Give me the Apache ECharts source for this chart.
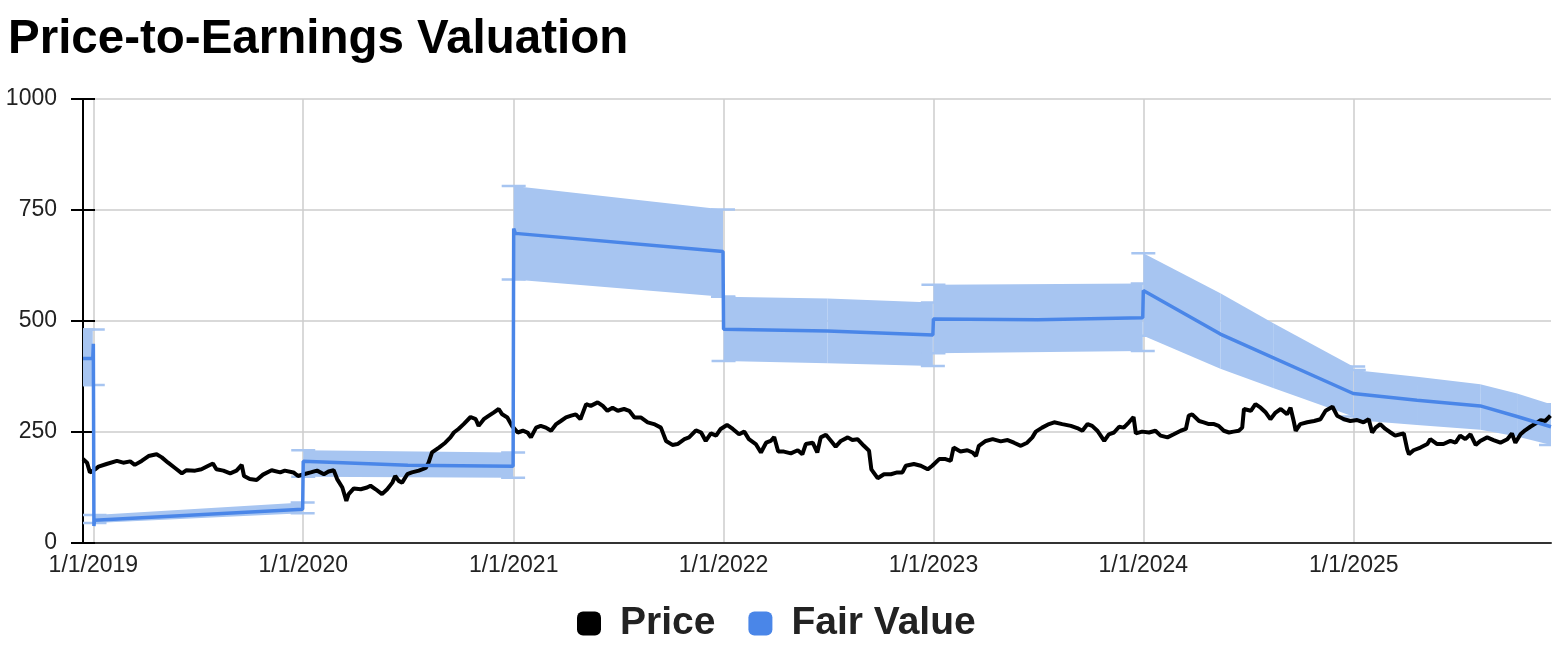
<!DOCTYPE html>
<html>
<head>
<meta charset="utf-8">
<title>Price-to-Earnings Valuation</title>
<script src="https://cdn.jsdelivr.net/npm/echarts@6.0.0/dist/echarts.min.js"></script>
<style>
html, body { margin: 0; padding: 0; background: #fff; }
#chart { width: 1564px; height: 654px; }
</style>
</head>
<body>
<div id="chart"></div>
<script>
// axis ticks
var yTicks = [0, 250, 500, 750, 1000];
var xTickDates = ['2019-01-01', '2020-01-01', '2021-01-01', '2022-01-01', '2023-01-01', '2024-01-01', '2025-01-01'];
var xStart = '2018-12-14', xEnd = '2025-12-10';

// price
var priceDates = [
	'2018-12-14','2018-12-21','2018-12-26','2019-01-04','2019-01-10','2019-01-24','2019-02-11','2019-02-22','2019-03-06','2019-03-14',
	'2019-03-26','2019-04-07','2019-04-21','2019-04-30','2019-05-11','2019-05-23','2019-06-04','2019-06-12','2019-06-27','2019-07-08',
	'2019-07-20','2019-07-28','2019-08-03','2019-08-15','2019-08-27','2019-09-07','2019-09-16','2019-09-20','2019-09-30','2019-10-12',
	'2019-10-23','2019-11-07','2019-11-22','2019-11-30','2019-12-15','2019-12-23','2020-01-02','2020-01-14','2020-01-25','2020-02-06',
	'2020-02-14','2020-02-23','2020-02-29','2020-03-09','2020-03-16','2020-03-20','2020-03-29','2020-04-10','2020-04-21','2020-04-27',
	'2020-05-06','2020-05-17','2020-05-26','2020-06-04','2020-06-09','2020-06-15','2020-06-21','2020-06-30','2020-07-08','2020-07-20',
	'2020-08-01','2020-08-06','2020-08-12','2020-08-24','2020-09-04','2020-09-13','2020-09-19','2020-09-27','2020-10-06','2020-10-18',
	'2020-10-27','2020-11-01','2020-11-10','2020-11-19','2020-11-27','2020-12-06','2020-12-12','2020-12-21','2020-12-29','2021-01-08',
	'2021-01-17','2021-01-25','2021-01-31','2021-02-09','2021-02-17','2021-02-26','2021-03-07','2021-03-16','2021-03-24','2021-04-02',
	'2021-04-11','2021-04-19','2021-04-27','2021-05-07','2021-05-15','2021-05-27','2021-06-05','2021-06-13','2021-06-22','2021-07-01',
	'2021-07-12','2021-07-21','2021-07-30','2021-08-10','2021-08-22','2021-09-02','2021-09-14','2021-09-23','2021-10-04','2021-10-13',
	'2021-10-25','2021-11-02','2021-11-14','2021-11-23','2021-12-01','2021-12-10','2021-12-19','2021-12-27','2022-01-07','2022-01-17',
	'2022-01-28','2022-02-06','2022-02-14','2022-02-26','2022-03-07','2022-03-16','2022-03-24','2022-03-30','2022-04-06','2022-04-16',
	'2022-04-28','2022-05-10','2022-05-18','2022-05-24','2022-06-05','2022-06-13','2022-06-19','2022-06-28','2022-07-07','2022-07-15',
	'2022-07-24','2022-08-05','2022-08-13','2022-08-22','2022-09-02','2022-09-11','2022-09-15','2022-09-26','2022-10-07','2022-10-19',
	'2022-10-30','2022-11-08','2022-11-14','2022-11-28','2022-12-10','2022-12-22','2022-12-30','2023-01-11','2023-01-22','2023-01-31',
	'2023-02-05','2023-02-17','2023-03-01','2023-03-10','2023-03-16','2023-03-21','2023-04-02','2023-04-14','2023-04-28','2023-05-10',
	'2023-05-21','2023-06-02','2023-06-13','2023-06-22','2023-06-28','2023-07-09','2023-07-21','2023-07-30','2023-08-13','2023-08-28',
	'2023-09-08','2023-09-17','2023-09-26','2023-10-04','2023-10-13','2023-10-25','2023-11-02','2023-11-11','2023-11-20','2023-11-28',
	'2023-12-07','2023-12-15','2023-12-19','2023-12-30','2024-01-11','2024-01-22','2024-01-31','2024-02-12','2024-02-23','2024-03-06',
	'2024-03-15','2024-03-20','2024-03-26','2024-04-07','2024-04-15','2024-04-24','2024-05-03','2024-05-11','2024-05-20','2024-05-29',
	'2024-06-06','2024-06-15','2024-06-21','2024-06-24','2024-06-27','2024-07-06','2024-07-14','2024-07-23','2024-08-01','2024-08-09',
	'2024-08-18','2024-08-27','2024-09-07','2024-09-13','2024-09-19','2024-09-22','2024-09-30','2024-10-12','2024-10-24','2024-11-04',
	'2024-11-13','2024-11-25','2024-12-03','2024-12-15','2024-12-26','2025-01-07','2025-01-18','2025-01-27','2025-02-02','2025-02-08',
	'2025-02-16','2025-02-25','2025-03-06','2025-03-14','2025-03-23','2025-03-29','2025-04-04','2025-04-07','2025-04-15','2025-04-27',
	'2025-05-09','2025-05-14','2025-05-26','2025-06-06','2025-06-18','2025-06-27','2025-07-05','2025-07-14','2025-07-23','2025-08-01',
	'2025-08-09','2025-08-21','2025-09-01','2025-09-13','2025-09-25','2025-10-03','2025-10-09','2025-10-18','2025-10-26','2025-11-04',
	'2025-11-13','2025-11-22','2025-11-30','2025-12-09'
];
var priceValues = [
	188,180,158,165,171,177,184,180,183,175,
	184,195,199,192,180,168,156,163,162,165,
	173,178,165,162,156,162,175,150,143,141,
	153,163,158,162,158,150,154,158,162,154,
	160,163,143,124,94,109,122,120,124,128,
	120,109,120,135,150,139,135,154,158,162,
	168,180,203,214,225,237,248,256,267,283,
	278,263,278,286,293,301,289,282,263,248,
	252,248,237,259,263,259,252,267,274,282,
	286,289,278,312,308,316,308,297,304,297,
	301,297,282,282,271,267,259,229,220,222,
	233,237,253,248,229,246,241,256,265,256,
	244,250,233,222,203,225,229,238,205,205,
	201,208,199,222,225,203,237,243,229,216,
	229,237,231,233,218,207,165,145,154,154,
	158,158,173,177,173,165,173,188,188,184,
	214,205,208,203,195,218,229,233,228,231,
	225,218,225,237,250,259,267,271,267,263,
	258,252,267,263,252,229,244,248,261,259,
	271,283,246,250,248,252,241,237,244,252,
	256,286,289,274,271,267,267,263,252,248,
	250,252,259,301,301,297,312,304,293,278,
	293,301,289,304,271,252,267,271,274,278,
	297,306,286,278,274,276,271,278,248,259,
	267,256,248,241,244,246,210,199,208,214,
	222,233,222,222,229,225,241,233,244,220,
	229,237,231,225,233,246,225,244,253,261,
	268,276,274,286
];

// fair value line
var fairDates = [
	'2018-12-14','2018-12-31','2019-01-01','2019-01-02','2019-01-03','2019-12-31',
	'2020-01-01','2020-07-01','2020-12-31','2021-01-01','2021-01-04','2021-12-31',
	'2022-01-01','2022-07-01','2022-12-31','2023-01-01','2023-07-01','2023-12-31',
	'2024-01-01','2024-05-14','2024-12-31','2025-04-21','2025-08-09','2025-10-12','2025-12-10'
];
var fairValues = [
	415,415,448,37,50,75,
	183,174,172,708,697,656,
	481,477,468,504,502,507,
	568,470,336,321,308,284,261
];

// fair value range (error band)
var bandDates = [
	'2018-12-14','2018-12-31','2019-01-03','2019-12-31','2020-01-01','2020-12-31',
	'2021-01-01','2021-12-31','2022-01-01','2022-07-01','2022-12-31','2023-01-01',
	'2023-12-31','2024-01-01','2024-05-14','2024-08-15','2024-12-31','2025-01-01',
	'2025-04-21','2025-08-09','2025-10-12','2025-12-10'
];
var bandLow = [
	355,355,44,66,148,146,
	593,554,409,404,398,427,
	432,466,392,348,284,276,
	265,254,239,220
];
var bandHigh = [
	480,480,62,90,208,203,
	804,751,554,550,541,581,
	584,652,562,494,397,389,
	374,357,336,312
];

var bandColor = '#a7c5f1';
var DAY = 24 * 3600 * 1000;

function toTime(s) {
	var p = s.split('-');
	return new Date(+p[0], +p[1] - 1, +p[2]).getTime();
}

function pairs(dates, values) {
	var out = [];
	for (var i = 0; i < dates.length; i++) {
		out.push([toTime(dates[i]), values[i]]);
	}
	return out;
}

// 区间数据：每一段 [t0, lo0, hi0, t1, lo1, hi1, 跳变, 首端, 末端]
var bandTimes = bandDates.map(toTime);
var bandData = [];
for (var i = 0; i < bandTimes.length - 1; i++) {
	var jump = bandTimes[i + 1] - bandTimes[i] < 3.5 * DAY ? 1 : 0;
	bandData.push([bandTimes[i], bandLow[i], bandHigh[i],
		bandTimes[i + 1], bandLow[i + 1], bandHigh[i + 1],
		jump, i == 0 ? 1 : 0, i == bandTimes.length - 2 ? 1 : 0]);
}

function cap(pt) {
	return {
		type: 'line',
		shape: { x1: pt[0] - 12, y1: pt[1], x2: pt[0] + 12, y2: pt[1] },
		style: { stroke: bandColor, lineWidth: 2.5 }
	};
}

function renderBand(params, api) {
	var lo0 = api.coord([api.value(0), api.value(1)]);
	var hi0 = api.coord([api.value(0), api.value(2)]);
	var lo1 = api.coord([api.value(3), api.value(4)]);
	var hi1 = api.coord([api.value(3), api.value(5)]);
	var children = [];
	if (api.value(6)) {
		// 跳变处只画误差线端帽
		children.push(cap(lo0), cap(hi0), cap(lo1), cap(hi1));
	} else {
		children.push({
			type: 'polygon',
			shape: { points: [lo0, lo1, hi1, hi0] },
			style: { fill: bandColor }
		});
		if (api.value(7)) children.push(cap(lo0), cap(hi0));
		if (api.value(8)) children.push(cap(lo1), cap(hi1));
	}
	return { type: 'group', children: children };
}

var chart = echarts.init(document.getElementById('chart'));
var font = 'Liberation Sans, Arial, sans-serif';
var xTicks = xTickDates.map(toTime);

chart.setOption({
	animation: false,
	backgroundColor: '#ffffff',
	title: {
		text: 'Price-to-Earnings Valuation',
		left: 3,
		top: 11,
		textStyle: { fontSize: 47.5, fontWeight: 'bold', color: '#000', fontFamily: font }
	},
	legend: {
		data: ['Price', 'Fair Value'],
		left: 572,
		top: 599,
		icon: 'roundRect',
		itemWidth: 24,
		itemHeight: 24,
		itemGap: 33,
		textStyle: { fontSize: 39, fontWeight: 'bold', color: '#222', fontFamily: font, padding: [0, 0, 0, 14] }
	},
	grid: { left: 83, right: 13, top: 99, bottom: 111.5, containLabel: false },
	xAxis: {
		type: 'value',
		min: toTime(xStart),
		max: toTime(xEnd),
		axisLine: { show: true, lineStyle: { color: '#333', width: 2 } },
		axisTick: { show: false, customValues: xTicks },
		axisLabel: {
			customValues: xTicks,
			fontSize: 23,
			color: '#222',
			fontFamily: font,
			margin: 12,
			formatter: function(v) {
				var d = new Date(v);
				return (d.getMonth() + 1) + '/' + d.getDate() + '/' + d.getFullYear();
			}
		},
		splitLine: { show: true, lineStyle: { color: '#cccccc', width: 1.5 } }
	},
	yAxis: [{
		type: 'value',
		min: yTicks[0],
		max: yTicks[yTicks.length - 1],
		interval: yTicks[1] - yTicks[0],
		axisLine: { show: true, lineStyle: { color: '#000', width: 2 } },
		axisTick: { show: true, length: 12, lineStyle: { color: '#000', width: 2 } },
		axisLabel: {
			fontSize: 23, color: '#222', fontFamily: font, margin: 26,
			formatter: function(v) { return String(v); }
		},
		splitLine: { show: true, lineStyle: { color: '#cccccc', width: 1.5 } }
	}, {
		type: 'value',
		position: 'left',
		min: yTicks[0],
		max: yTicks[yTicks.length - 1],
		interval: yTicks[1] - yTicks[0],
		axisLine: { show: false },
		axisTick: { show: true, inside: true, length: 12, lineStyle: { color: '#000', width: 2 } },
		axisLabel: { show: false },
		splitLine: { show: false }
	}],
	series: [{
		name: 'Range',
		type: 'custom',
		renderItem: renderBand,
		clip: true,
		z: 1,
		encode: { x: [0, 3], y: [1, 2, 4, 5] },
		data: bandData
	}, {
		name: 'Price',
		type: 'line',
		symbol: 'none',
		z: 2,
		color: '#000000',
		lineStyle: { color: '#000000', width: 4 },
		data: pairs(priceDates, priceValues)
	}, {
		name: 'Fair Value',
		type: 'line',
		symbol: 'none',
		z: 3,
		color: '#4a86e8',
		lineStyle: { color: '#4a86e8', width: 3.5 },
		data: pairs(fairDates, fairValues)
	}]
});
</script>
</body>
</html>
